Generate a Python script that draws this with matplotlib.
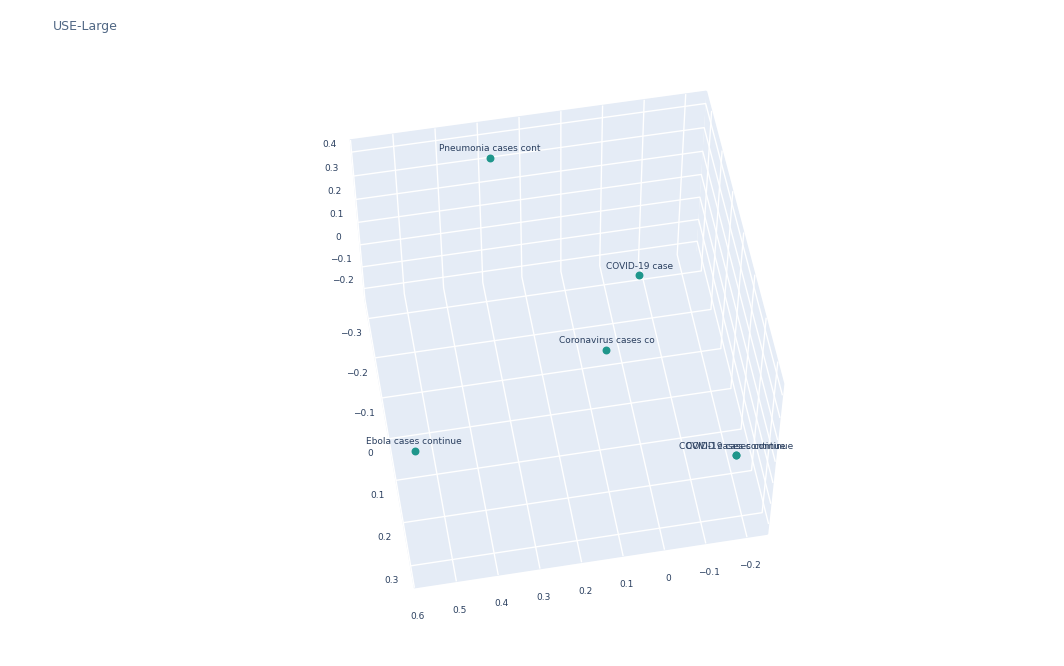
import matplotlib
matplotlib.use("Agg")
import matplotlib.pyplot as plt
from matplotlib.ticker import FuncFormatter

labels = ["Pneumonia cases cont", "COVID-19 case", "Coronavirus cases co",
          "Ebola cases continue", "COVID-19 cases continue", "COVID cases continue"]
xs = [0.28, -0.05, 0.06, 0.55, -0.2, -0.2]
ys = [-0.3, -0.15, -0.02, 0.1, 0.22, 0.22]
zs = [0.38, 0.05, -0.02, -0.12, -0.12, -0.12]

fig = plt.figure(figsize=(10.64, 6.66), dpi=100)
fig.text(0.05, 0.97, "USE-Large", fontsize=9, color="#506784", va="top")
ax = fig.add_axes([0.22, 0.06, 0.6, 0.84], projection="3d")
ax.view_init(elev=55, azim=80)
pane = (229/255, 236/255, 246/255, 1)
fmt = FuncFormatter(lambda v, p: ("%g" % round(v, 2)).replace("-", "\u2212"))
for a in (ax.xaxis, ax.yaxis, ax.zaxis):
    a.set_pane_color(pane)
    a._axinfo["grid"]["color"] = "white"
    a._axinfo["grid"]["linewidth"] = 1
    a._axinfo["tick"]["outward_factor"] = 0
    a._axinfo["tick"]["inward_factor"] = 0
    a.line.set_color((1, 1, 1, 0))
    a.set_major_formatter(fmt)
ax.scatter(xs, ys, zs, color="#1f968b", s=22, depthshade=False)
for x, y, z, t in zip(xs, ys, zs, labels):
    ax.text(x, y, z + 0.03, t, fontsize=6.5, color="#2a3f5f", ha="center")
ax.set_xlim(-0.25, 0.6)
ax.set_ylim(-0.35, 0.35)
ax.set_zlim(-0.25, 0.45)
ax.tick_params(labelsize=6.5, colors="#2a3f5f")
fig.savefig("out.png", dpi=100)
